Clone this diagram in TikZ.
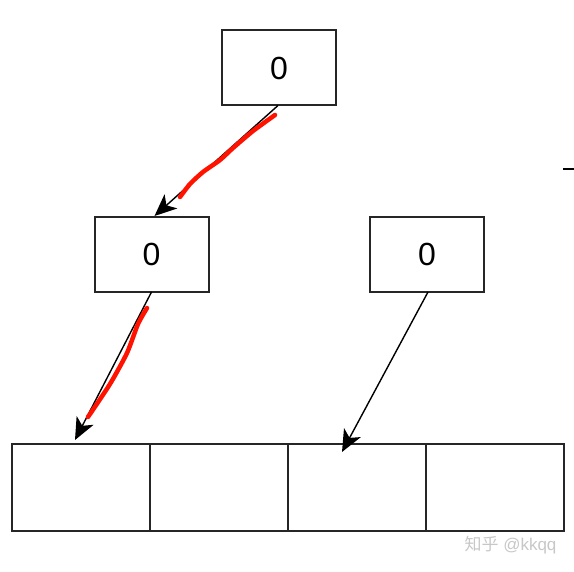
\documentclass[tikz,border=0pt]{standalone}
\usepackage{fontspec}
\setmainfont{Liberation Sans}
\newfontfamily\cjk{Noto Sans CJK SC}
\usetikzlibrary{arrows.meta}
\begin{document}
\begin{tikzpicture}[x=1pt, y=-1pt,
    box/.style = {draw=black!85, line width=2pt, minimum width=114pt, minimum height=75pt, inner sep=0pt, outer sep=0pt, font=\fontsize{32}{32}\selectfont},
    cell/.style = {draw=black!85, line width=2pt, minimum width=138pt, minimum height=87pt, inner sep=0pt, outer sep=0pt},
    link/.style = {line width=1.4pt, -{Stealth[length=22pt, width=19pt, inset=6pt]}},
    pen/.style = {draw=red!85!orange, line width=4.5pt, line cap=round, line join=round}]
    \useasboundingbox (0,0) rectangle (574,572);

    \node[box] (top) at (279,68) {0};
    \node[box] (ml) at (151.5,254.5) {0};
    \node[box] (mr) at (427,254.5) {0};

    \node[cell] (c1) at (81,487.5) {};
    \node[cell] (c2) at (219,487.5) {};
    \node[cell] (c3) at (357,487.5) {};
    \node[cell] (c4) at (495,487.5) {};

    \coordinate (t1) at ([xshift=3pt, yshift=1pt]ml.north);
    \coordinate (t2) at ([xshift=-6pt, yshift=4pt]c1.north);
    \coordinate (t3) at ([xshift=-15pt, yshift=-8pt]c3.north);

    \draw[link] ([xshift=-1pt]top.south) -- (t1);
    \draw[link] (ml.south) -- (t2);
    \draw[link] ([xshift=1pt]mr.south) -- (t3);

    % red pen strokes
    \draw[pen] plot[smooth, tension=0.4] coordinates {(275,115) (253,131) (233,148) (220,160) (203,172) (190,184) (180,197)};
    \draw[pen] plot[smooth, tension=0.4] coordinates {(147,308) (138,324) (127,353) (110,384) (88,417)};

    \draw[line width=2pt] (563,169) -- (574,169);

    \node[text=black!22, font=\fontsize{17}{17}\selectfont, anchor=west] (wm) at (461,545) {{\cjk 知乎} @kkqq};
\end{tikzpicture}
\end{document}
